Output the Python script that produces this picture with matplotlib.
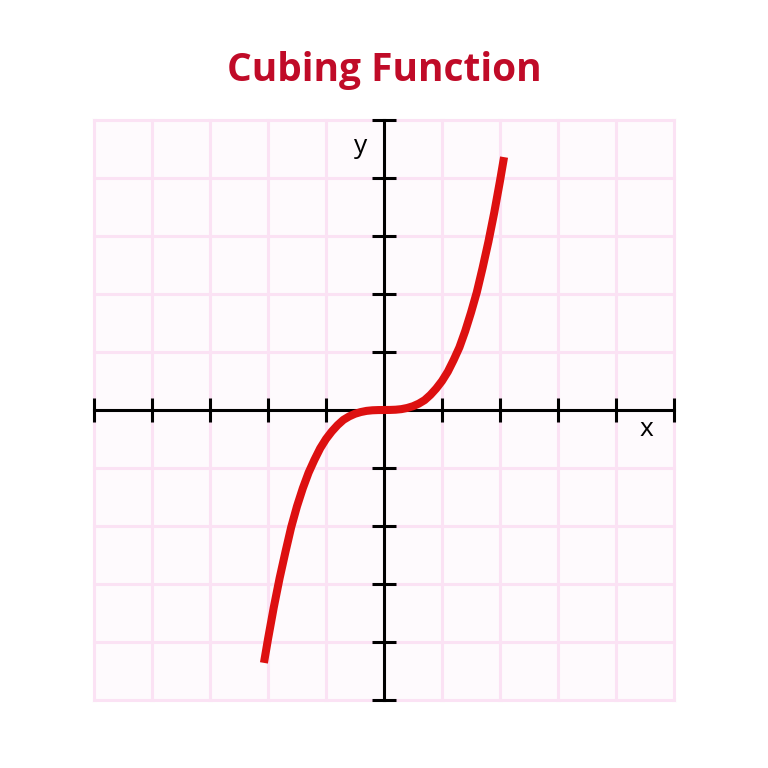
import matplotlib
matplotlib.use("Agg")
import matplotlib.pyplot as plt

title = "Cubing Function"
x_vals = [-2.07, -2.0, -1.9, -1.8, -1.7, -1.6, -1.5, -1.4, -1.3, -1.2, -1.1, -1.0, -0.9,
          -0.8, -0.7, -0.6, -0.5, -0.4, -0.3, -0.2, -0.1, 0.0,
          0.1, 0.2, 0.3, 0.4, 0.5, 0.6, 0.7, 0.8, 0.9, 1.0, 1.1, 1.2, 1.3, 1.4,
          1.5, 1.6, 1.7, 1.8, 1.9, 2.0, 2.07]
y_vals = [-4.36, -3.95, -3.4, -2.9, -2.45, -2.02, -1.66, -1.35, -1.08, -0.86, -0.66, -0.5, -0.37,
          -0.26, -0.17, -0.11, -0.065, -0.035, -0.015, -0.005, -0.001, 0.0,
          0.001, 0.005, 0.015, 0.035, 0.065, 0.11, 0.17, 0.26, 0.37, 0.5, 0.66, 0.86, 1.08, 1.36,
          1.68, 2.03, 2.45, 2.9, 3.4, 3.95, 4.36]
ticks = [-5, -4, -3, -2, -1, 1, 2, 3, 4, 5]
grid_pos = [-5, -4, -3, -2, -1, 0, 1, 2, 3, 4, 5]

fig = plt.figure(figsize=(7.68, 7.68), dpi=100)
fig.patch.set_facecolor("white")
ax = fig.add_axes([94/768, 68/768, 580/768, 580/768])
ax.set_facecolor("#fefafd")
ax.set_xlim(-5, 5)
ax.set_ylim(-5, 5)

for g in grid_pos:
    ax.axvline(g, color="#fbe2f4", lw=2.2, zorder=0, clip_on=False)
    ax.axhline(g, color="#fbe2f4", lw=2.2, zorder=0, clip_on=False)

for s in ["top", "right"]:
    ax.spines[s].set_visible(False)
ax.spines["left"].set_position("zero")
ax.spines["bottom"].set_position("zero")
for s in ["left", "bottom"]:
    ax.spines[s].set_linewidth(2.2)
    ax.spines[s].set_color("black")
    ax.spines[s].set_zorder(3)
ax.set_xticks(ticks)
ax.set_yticks(ticks)
ax.tick_params(direction="inout", length=17, width=2.2, color="black",
               labelbottom=False, labelleft=False)
for t in ax.xaxis.get_major_ticks() + ax.yaxis.get_major_ticks():
    t.tick1line.set_clip_on(False)

ax.plot(x_vals, y_vals, color="#dd1010", lw=5.8, solid_capstyle="butt",
        solid_joinstyle="round", zorder=4)

ax.text(-0.40, 4.55, "y", fontsize=19, family="Open Sans", ha="center", va="center")
ax.text(4.53, -0.34, "x", fontsize=19, family="Open Sans", ha="center", va="center")

fig.text(0.5, 1 - 70/768, title, fontsize=28, fontweight="bold", family="Open Sans",
         color="#c00b28", ha="center", va="center")

fig.savefig("out.png", dpi=100)
